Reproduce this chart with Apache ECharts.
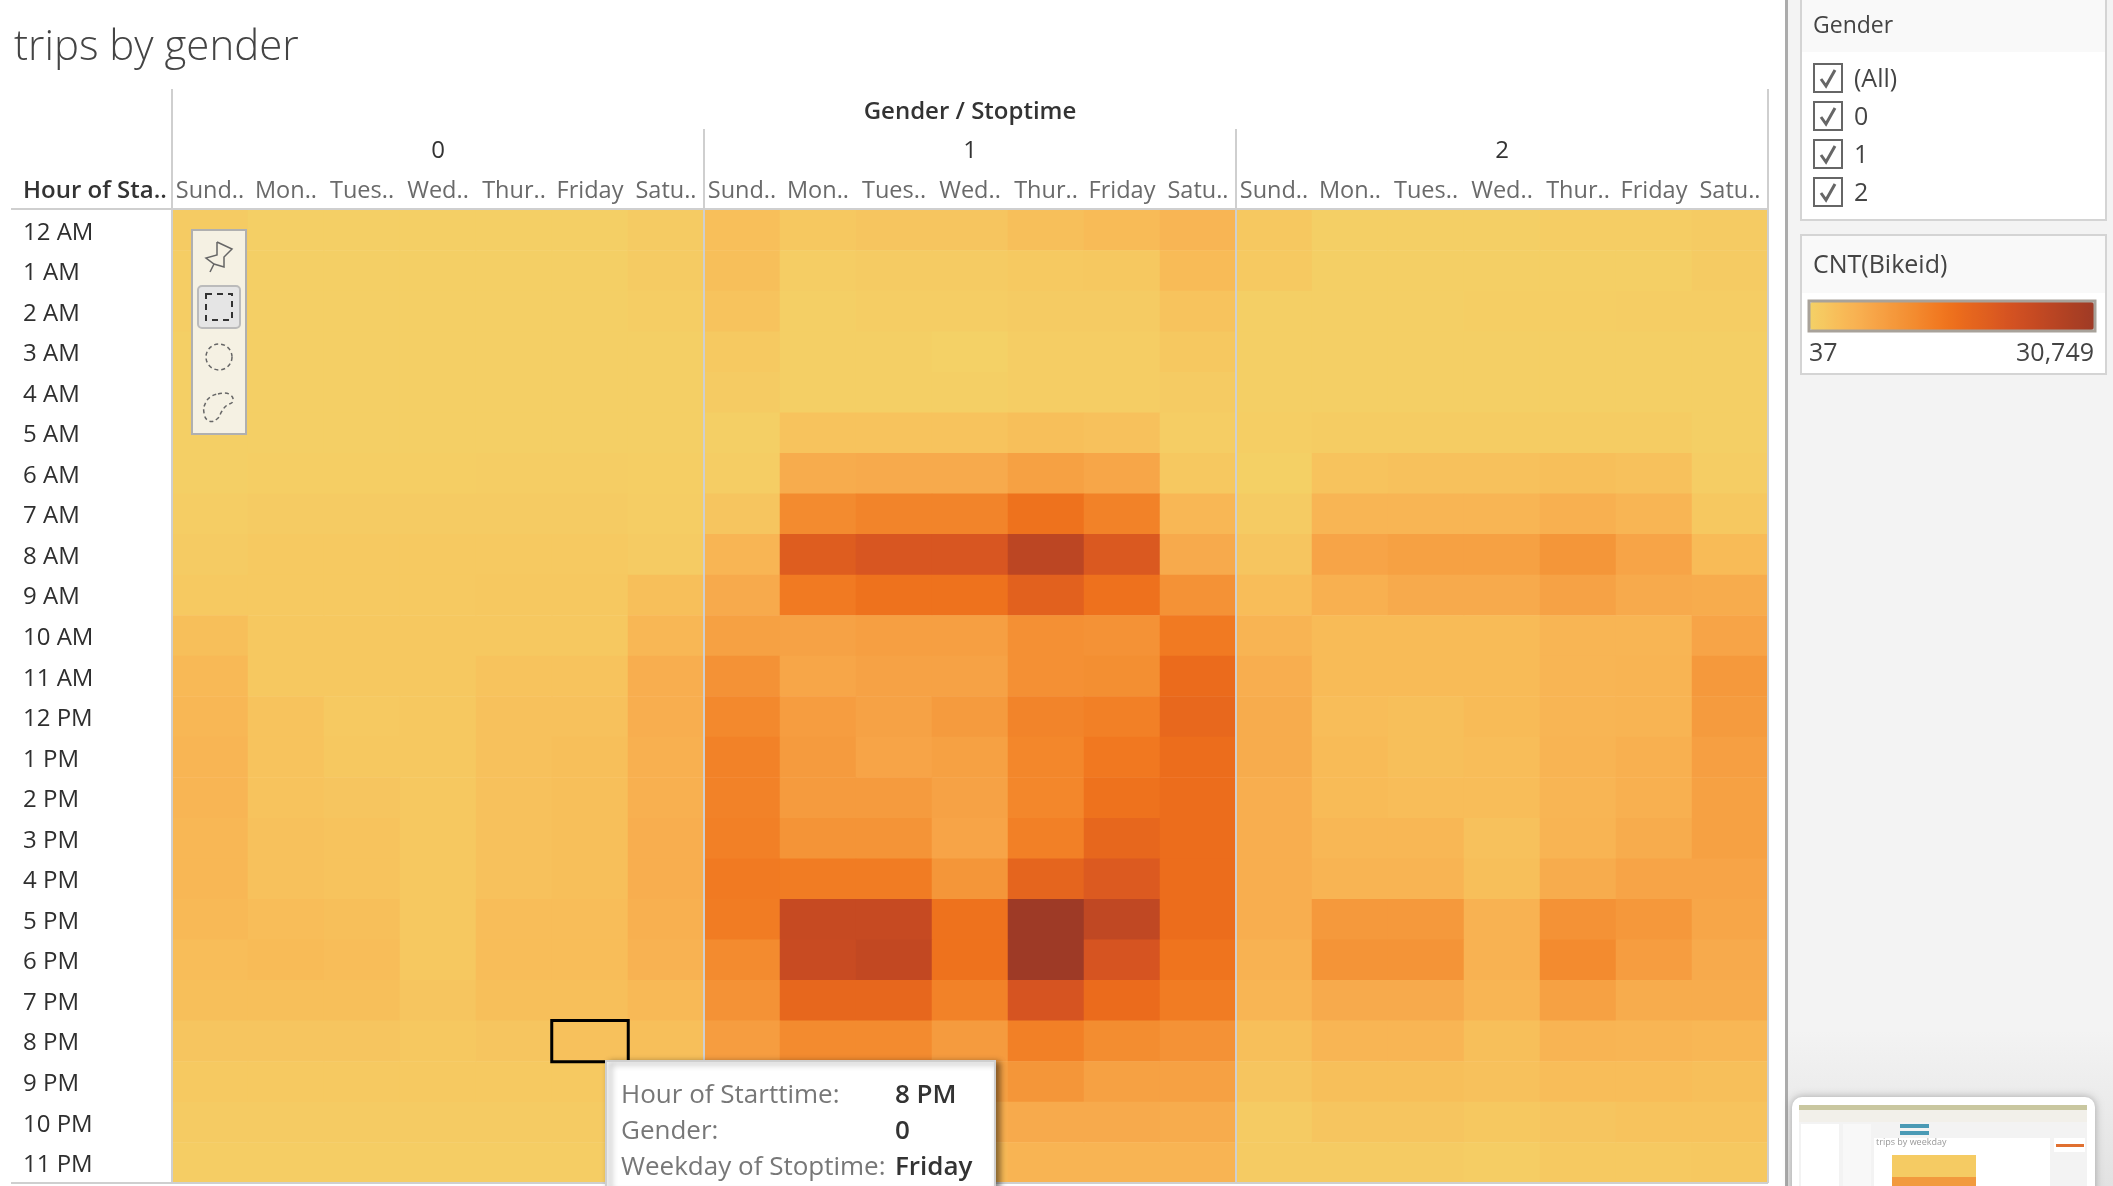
<!DOCTYPE html>
<html>
<head>
<meta charset="utf-8">
<title>trips by gender</title>
<script src="https://cdn.jsdelivr.net/npm/echarts@6/dist/echarts.min.js"></script>
<style>
html, body { margin: 0; padding: 0; background: #fff; }
#main { width: 2113px; height: 1186px; }
</style>
</head>
<body>
<div id="main"></div>
<script>
var hours = ['12 AM', '1 AM', '2 AM', '3 AM', '4 AM', '5 AM', '6 AM', '7 AM', '8 AM', '9 AM', '10 AM', '11 AM',
    '12 PM', '1 PM', '2 PM', '3 PM', '4 PM', '5 PM', '6 PM', '7 PM', '8 PM', '9 PM', '10 PM', '11 PM'];
var weekdays = ['Sund..', 'Mon..', 'Tues..', 'Wed..', 'Thur..', 'Friday', 'Satu..'];
var genders = ['0', '1', '2'];
var genderFilter = ['(All)', '0', '1', '2'];
var cntMin = 37;
var cntMax = 30749;

// rows are hours, columns are Sunday..Saturday
var gender0 = [
    [960, 350, 350, 350, 350, 350, 960],
    [650, 350, 350, 350, 350, 350, 960],
    [650, 350, 350, 350, 350, 350, 650],
    [350, 350, 350, 350, 350, 350, 350],
    [350, 350, 350, 350, 350, 350, 350],
    [350, 350, 350, 350, 350, 350, 350],
    [350, 500, 500, 500, 650, 650, 500],
    [650, 960, 960, 960, 960, 960, 650],
    [960, 1270, 1270, 1270, 1270, 1270, 960],
    [1270, 1270, 1270, 1270, 1570, 1570, 2800],
    [2800, 1570, 1570, 1570, 1570, 1570, 4030],
    [3720, 1570, 1570, 1570, 2190, 2190, 5560],
    [4030, 2190, 1270, 1570, 2490, 2490, 5560],
    [4340, 2190, 1570, 1570, 2490, 2800, 5260],
    [4340, 2190, 1880, 1570, 2490, 2800, 5260],
    [4030, 2490, 2190, 1570, 2490, 2800, 5560],
    [4030, 2490, 2190, 1570, 2490, 2800, 5560],
    [3720, 3110, 2800, 1570, 3110, 3110, 5260],
    [3110, 3420, 3110, 1570, 3110, 3110, 4950],
    [2800, 2800, 2800, 1880, 2800, 2800, 3720],
    [1880, 1880, 1880, 1570, 1880, 2490, 2800],
    [1270, 1270, 1270, 1270, 1270, 1270, 1880],
    [960, 960, 960, 960, 960, 960, 1270],
    [650, 650, 650, 650, 650, 650, 960]
];
var gender1 = [
    [2900, 1570, 1880, 1880, 2800, 3420, 4340],
    [2800, 650, 960, 960, 1270, 1570, 3420],
    [2190, 350, 650, 650, 960, 960, 2190],
    [1270, 350, 350, 100, 650, 650, 1570],
    [960, 350, 350, 350, 650, 650, 960],
    [350, 2190, 2190, 2190, 2800, 2490, 650],
    [650, 5870, 6180, 6180, 7710, 6790, 1570],
    [1880, 11400, 12320, 12320, 15080, 12630, 4030],
    [4340, 19380, 20910, 20910, 25830, 20300, 6180],
    [6180, 13850, 15080, 15080, 18460, 15390, 10170],
    [7710, 7410, 8020, 8020, 10480, 10170, 13850],
    [10170, 6790, 7410, 7410, 10480, 10780, 16310],
    [11700, 8330, 7410, 8630, 12320, 12930, 16920],
    [12630, 8630, 7100, 7710, 12010, 14160, 16000],
    [12630, 8630, 8630, 7410, 12010, 15080, 16000],
    [12930, 9860, 9860, 7100, 12930, 17230, 16000],
    [13850, 13550, 13550, 9560, 17540, 19990, 16000],
    [13550, 24290, 24290, 15080, 30749, 25210, 16000],
    [11400, 23980, 24900, 15080, 30749, 21220, 14770],
    [10170, 17230, 17230, 12630, 21220, 16310, 13550],
    [8330, 11400, 11400, 8630, 12930, 11090, 10170],
    [6790, 8630, 8630, 7710, 9560, 7710, 7710],
    [4640, 6180, 6180, 5560, 6180, 6180, 5870],
    [3110, 4030, 4030, 3720, 4640, 4640, 4640]
];
var gender2 = [
    [1570, 350, 350, 350, 650, 650, 960],
    [1270, 350, 350, 350, 350, 350, 960],
    [350, 350, 350, 500, 500, 650, 650],
    [350, 350, 350, 350, 350, 350, 350],
    [350, 350, 350, 350, 350, 350, 350],
    [500, 800, 800, 800, 800, 800, 350],
    [190, 2190, 2490, 2490, 2800, 2490, 650],
    [960, 4340, 4340, 4340, 5260, 4340, 1570],
    [1880, 7100, 7710, 7710, 9560, 7100, 3420],
    [3110, 5260, 6180, 6180, 7410, 6180, 5870],
    [4640, 3420, 3420, 3420, 4340, 4340, 7100],
    [5560, 3420, 3420, 3420, 4340, 4640, 8940],
    [5870, 3110, 2800, 3420, 4340, 4640, 8630],
    [5870, 3420, 2800, 3110, 4640, 5260, 8020],
    [5560, 3420, 3110, 3110, 4340, 5260, 7710],
    [5560, 4030, 4030, 2490, 4640, 5870, 7710],
    [5560, 4640, 4640, 2800, 5870, 7100, 7100],
    [5560, 8940, 8940, 4950, 10170, 9250, 6790],
    [4950, 9860, 9860, 4950, 11400, 8330, 6180],
    [4340, 6180, 6180, 4340, 7710, 5870, 5870],
    [2800, 4340, 4340, 2800, 4640, 4340, 4030],
    [1880, 2800, 2800, 2490, 3110, 3110, 2800],
    [960, 1880, 1880, 1570, 1880, 2190, 2190],
    [960, 960, 960, 650, 1270, 1270, 1570]
];

var colorRamp = ['#F4D166', '#F6C760', '#F8BC58', '#F8B252', '#F7A84A', '#F69E41', '#F49538', '#F38B2F',
    '#F28026', '#F0751E', '#EB6C1C', '#E4641E', '#DE5D1F', '#D75521', '#CF4F22', '#C64A22',
    '#BC4623', '#B24223', '#A83E24', '#9E3A26'];

var tipRows = [['Hour of Starttime:', '8 PM'], ['Gender:', '0'], ['Weekday of Stoptime:', 'Friday']];
var selectedCell = { gender: 0, hour: 20, day: 5 };

var fontName = '"Open Sans", sans-serif';
var gridLeft = 172;
var gridTop = 210;
var cellW = 76;
var gridH = 973;
var lineGrey = '#cfcfcf';

// heatmap data for one panel, the selected cell goes last so its border stays on top
function panelData(rows, panel) {
    var data = [];
    var last = null;
    for (var h = 0; h < rows.length; h++) {
        for (var d = 0; d < rows[h].length; d++) {
            if (panel == selectedCell.gender && h == selectedCell.hour && d == selectedCell.day) {
                last = { value: [d, h, rows[h][d]], itemStyle: { borderColor: '#000', borderWidth: 3 } };
            } else {
                data.push([d, h, rows[h][d]]);
            }
        }
    }
    if (last) data.push(last);
    return data;
}

function box(x, y, w, h, fill, stroke, lineWidth, z, r) {
    return {
        type: 'rect', silent: true, z: z || 1,
        shape: { x: x, y: y, width: w, height: h, r: r || 0 },
        style: { fill: fill, stroke: stroke || null, lineWidth: lineWidth || 0 }
    };
}
function label(x, y, text, size, color, opt) {
    opt = opt || {};
    return {
        type: 'text', silent: true, z: opt.z || 5, x: x, y: y,
        style: {
            text: text, fill: color, font: (opt.weight || 'normal') + ' ' + size + 'px ' + fontName,
            textAlign: opt.align || 'left', textVerticalAlign: 'middle'
        }
    };
}

var grids = [], xAxes = [], yAxes = [], series = [];
var panels = [gender0, gender1, gender2];
for (var p = 0; p < 3; p++) {
    grids.push({ left: gridLeft + p * (cellW * 7), top: gridTop, width: cellW * 7, height: gridH });
    xAxes.push({
        type: 'category', gridIndex: p, position: 'top', data: weekdays,
        name: genders[p], nameLocation: 'middle', nameGap: 47,
        nameTextStyle: { fontFamily: fontName, fontSize: 24, color: '#333', fontWeight: 500 },
        axisLine: { show: false }, axisTick: { show: false }, splitLine: { show: false },
        axisLabel: { interval: 0, margin: 7, fontFamily: fontName, fontSize: 23.5, color: '#6a6a6a' }
    });
    yAxes.push({
        type: 'category', gridIndex: p, inverse: true, data: hours,
        axisLine: { show: false }, axisTick: { show: false }, splitLine: { show: false },
        axisLabel: {
            show: p == 0, interval: 0, margin: 149, align: 'left',
            formatter: '{h|{value}}',
            rich: { h: { padding: [5, 0, 0, 0], fontFamily: fontName, fontSize: 24, color: '#2f2f2f' } }
        }
    });
    series.push({
        type: 'heatmap', xAxisIndex: p, yAxisIndex: p,
        data: panelData(panels[p], p), progressive: 0,
        emphasis: { disabled: true }
    });
}

var gfx = [];
// side pane behind the filter cards
gfx.push(box(1787, 0, 326, 1186, '#f3f3f3'));
gfx.push({
    type: 'rect', silent: true, z: 1,
    shape: { x: 1787, y: 1030, width: 326, height: 156 },
    style: {
        fill: {
            type: 'linear', x: 0, y: 0, x2: 0, y2: 1,
            colorStops: [{ offset: 0, color: '#f3f3f3' }, { offset: 1, color: '#e2e2e2' }]
        }
    }
});
gfx.push(box(1785, 0, 3, 1186, '#ababab'));

// header and panel rules
gfx.push(box(gridLeft - 1, 89, 2, 121, lineGrey));
gfx.push(box(gridLeft + 21 * cellW - 1, 89, 2, 121, lineGrey));
gfx.push(box(gridLeft + 7 * cellW - 1, 129, 2, 81, lineGrey));
gfx.push(box(gridLeft + 14 * cellW - 1, 129, 2, 81, lineGrey));
gfx.push(box(gridLeft + 7 * cellW - 1, gridTop, 2, gridH, lineGrey, null, 0, 4));
gfx.push(box(gridLeft + 14 * cellW - 1, gridTop, 2, gridH, lineGrey, null, 0, 4));
gfx.push(box(gridLeft - 1, gridTop, 2, gridH, lineGrey, null, 0, 4));
gfx.push(box(gridLeft + 21 * cellW - 1, gridTop, 2, gridH, lineGrey, null, 0, 4));
gfx.push(box(11, 208, 1757, 2, lineGrey, null, 0, 4));
gfx.push(box(11, gridTop + gridH - 1, 1757, 2, lineGrey, null, 0, 4));

gfx.push(label(970, 112, 'Gender / Stoptime', 24, '#333', { align: 'center', weight: 600 }));
gfx.push(label(23, 191, 'Hour of Sta..', 24, '#333', { weight: 600 }));

// Gender filter card
gfx.push(box(1801, -2, 305, 222, '#fff', '#d4d4d4', 2));
gfx.push(box(1802, 0, 303, 52, '#f9f9f9'));
gfx.push(label(1813, 26, 'Gender', 23, '#444'));
for (var i = 0; i < genderFilter.length; i++) {
    var cy = 78 + i * 38;
    gfx.push(box(1814, cy - 14, 28, 28, '#fff', '#666', 2));
    gfx.push({
        type: 'polyline', silent: true, z: 5,
        shape: { points: [[1821, cy + 1], [1826, cy + 8], [1835, cy - 8]] },
        style: { fill: null, stroke: '#666', lineWidth: 3 }
    });
    gfx.push(label(1854, cy + 2, genderFilter[i], 25, '#444'));
}

// colour legend card, the bar itself is the visualMap
gfx.push(box(1801, 235, 305, 139, '#fff', '#d4d4d4', 2));
gfx.push(box(1802, 236, 303, 57, '#f9f9f9'));
gfx.push(label(1813, 266, 'CNT(Bikeid)', 25, '#444'));
gfx.push(box(1809, 301, 286, 30, null, '#a8a29a', 3, 12));
gfx.push(label(1809, 354, String(cntMin), 25, '#444'));
gfx.push(label(2094, 354, cntMax.toLocaleString('en-US'), 25, '#444', { align: 'right' }));

// selection toolbar
gfx.push(box(192, 230, 54, 204, '#f5f1e3', '#b0b0b0', 2, 20));
gfx.push(box(198, 286, 42, 42, '#e5e5e5', '#bbb', 2, 21, 4));
gfx.push({
    type: 'rect', silent: true, z: 22, shape: { x: 206, y: 294, width: 26, height: 26 },
    style: { fill: null, stroke: '#333', lineWidth: 2, lineDash: [6, 5] }
});
gfx.push({
    type: 'circle', silent: true, z: 22, shape: { cx: 219, cy: 357, r: 13 },
    style: { fill: null, stroke: '#666', lineWidth: 1.5, lineDash: [4, 3] }
});
gfx.push({
    type: 'polyline', silent: true, z: 22,
    shape: {
        smooth: 0.5,
        points: [[218, 394], [229, 394], [233, 401], [226, 406], [222, 411], [217, 419], [209, 421], [204, 413], [206, 402], [212, 396], [218, 394]]
    },
    style: { fill: null, stroke: '#666', lineWidth: 1.5, lineDash: [4, 3] }
});
gfx.push({
    type: 'polyline', silent: true, z: 22,
    shape: { points: [[217, 242], [232, 249], [224, 257], [224, 267], [214, 264], [206, 258], [217, 255], [217, 242]] },
    style: { fill: null, stroke: '#666', lineWidth: 1.5 }
});
gfx.push({
    type: 'line', silent: true, z: 22, shape: { x1: 214, y1: 264, x2: 210, y2: 272 },
    style: { stroke: '#666', lineWidth: 1.5 }
});

// tooltip left open on the selected cell
gfx.push({
    type: 'rect', silent: true, z: 30, shape: { x: 606, y: 1061, width: 389, height: 130 },
    style: {
        fill: '#fff', stroke: '#cfcfcf', lineWidth: 2,
        shadowBlur: 6, shadowOffsetX: 4, shadowOffsetY: 2, shadowColor: 'rgba(0,0,0,0.45)'
    }
});
for (var t = 0; t < tipRows.length; t++) {
    gfx.push(label(621, 1096 + t * 36, tipRows[t][0], 26, '#777', { z: 31 }));
    gfx.push(label(895, 1096 + t * 36, tipRows[t][1], 26, '#333', { z: 31, weight: 600 }));
}

// workbook thumbnail in the lower right corner
gfx.push({
    type: 'rect', silent: true, z: 6, shape: { x: 1792, y: 1097, width: 303, height: 110, r: 10 },
    style: { fill: '#fff', shadowBlur: 8, shadowColor: 'rgba(0,0,0,0.3)' }
});
gfx.push(box(1799, 1105, 288, 5, '#c9c7a0', null, 0, 7));
gfx.push(box(1799, 1110, 288, 12, '#f2f0ea', null, 0, 7));
gfx.push(box(1799, 1122, 288, 64, '#f3f3f3', null, 0, 7));
gfx.push(box(1801, 1124, 38, 62, '#fff', null, 0, 8));
gfx.push(box(1843, 1124, 28, 62, '#f8f8f8', null, 0, 8));
gfx.push(box(1900, 1124, 29, 4, '#4a9ab5', null, 0, 8));
gfx.push(box(1900, 1131, 29, 4, '#4a9ab5', null, 0, 8));
gfx.push(box(1874, 1138, 176, 48, '#fff', null, 0, 8));
gfx.push(box(2054, 1138, 31, 14, '#fff', null, 0, 8));
gfx.push(box(1892, 1155, 84, 22, '#f5cb63', null, 0, 9));
gfx.push(box(1892, 1177, 84, 9, '#f29a3e', null, 0, 9));
gfx.push(box(2056, 1144, 28, 3, '#e07030', null, 0, 9));
gfx.push(label(1876, 1142, 'trips by weekday', 9, '#999', { z: 9 }));

var option = {
    backgroundColor: '#fff',
    animation: false,
    textStyle: { fontFamily: fontName },
    title: {
        text: 'trips by gender', left: 9, top: 22,
        textStyle: { fontFamily: fontName, fontWeight: 300, fontSize: 42, color: '#444' }
    },
    grid: grids,
    xAxis: xAxes,
    yAxis: yAxes,
    visualMap: {
        type: 'continuous', min: cntMin, max: cntMax, seriesIndex: [0, 1, 2],
        orient: 'horizontal', left: 1795, top: 287, itemWidth: 28, itemHeight: 284,
        calculable: false, hoverLink: false, text: null, showLabel: false,
        inRange: { color: colorRamp }
    },
    series: series,
    graphic: { elements: gfx }
};

var myChart = echarts.init(document.getElementById('main'));
myChart.setOption(option);
</script>
</body>
</html>
